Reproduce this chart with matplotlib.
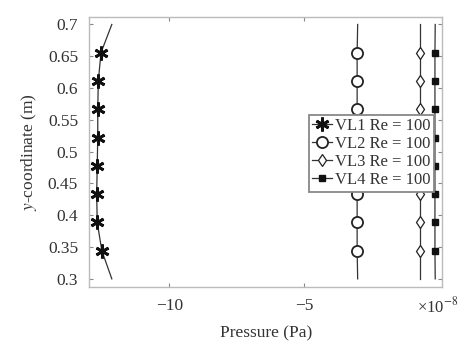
import numpy as np
import matplotlib.pyplot as plt

plt.rcParams['font.family'] = ['Liberation Serif', 'DejaVu Serif']
plt.rcParams['mathtext.fontset'] = 'stix'

# y positions of the sampled points (m)
y = np.array([0.3, 0.3444, 0.3889, 0.4333, 0.4778, 0.5222, 0.5667, 0.6111, 0.6556, 0.7])

# pressure along each vertical line, in units of 1e-8 Pa
p_vl1 = np.array([-12.13, -12.50, -12.67, -12.69, -12.67, -12.65, -12.65, -12.63, -12.53, -12.13])
p_vl2 = np.array([-3.03, -3.05, -3.05, -3.05, -3.05, -3.05, -3.05, -3.05, -3.05, -3.03])
p_vl3 = np.array([-0.73, -0.73, -0.73, -0.73, -0.73, -0.73, -0.73, -0.73, -0.73, -0.73])
p_vl4 = np.array([-0.16, -0.17, -0.17, -0.17, -0.17, -0.17, -0.17, -0.17, -0.17, -0.16])

labels = ['VL1 Re = 100', 'VL2 Re = 100', 'VL3 Re = 100', 'VL4 Re = 100']

fig = plt.figure(figsize=(4.74, 3.58), dpi=100)
ax = fig.add_axes([0.188, 0.198, 0.745, 0.755])

lc = '#333333'
# lines through all points, markers only at interior points
ax.plot(p_vl1, y, '-', color=lc, lw=0.9, marker=(6, 2, 0), ms=10, mec='#111111', mew=2.0,
        markevery=slice(1, -1), label=labels[0])
ax.plot(p_vl2, y, '-', color=lc, lw=0.9, marker='o', ms=8, mfc='white', mec='#222222', mew=1.3,
        markevery=slice(1, -1), label=labels[1])
ax.plot(p_vl3, y, '-', color=lc, lw=0.9, marker='d', ms=6, mfc='white', mec='#222222', mew=0.9,
        markevery=slice(1, -1), label=labels[2])
ax.plot(p_vl4, y, '-', color=lc, lw=0.9, marker='s', ms=4.5, mfc='#111111', mec='#111111',
        markevery=slice(1, -1), label=labels[3])

ax.set_xlim(-12.97, 0.1)
ax.set_ylim(0.287, 0.712)
ax.set_xticks([-10, -5])
ax.set_xticklabels(['\u221210', '\u22125'])
ax.set_yticks(np.arange(0.3, 0.701, 0.05))
ax.set_yticklabels(['0.3', '0.35', '0.4', '0.45', '0.5', '0.55', '0.6', '0.65', '0.7'])

for s in ax.spines.values():
    s.set_color('#bbbbbb')
    s.set_linewidth(1.0)
ax.tick_params(direction='in', length=3, color='#888888', top=True, right=True,
               labelsize=12.5, labelcolor='#333333', pad=8)

ax.set_xlabel('Pressure (Pa)', fontsize=12.5, color='#333333', labelpad=8)
ax.set_ylabel('$y$-coordinate (m)', fontsize=12.5, color='#333333', labelpad=6)

ax.text(1.045, -0.035, '\u00d710$^{-8}$', transform=ax.transAxes, ha='right', va='top',
        fontsize=12, color='#333333')

leg = ax.legend(loc='upper left', bbox_to_anchor=(0.623, 0.637), borderaxespad=0,
                fontsize=12, handlelength=1.2, handletextpad=0.15, labelspacing=0.12,
                borderpad=0.2, fancybox=False, framealpha=1)
leg.get_frame().set_edgecolor('#888888')
leg.get_frame().set_linewidth(1.3)
for t in leg.get_texts():
    t.set_color('#333333')

fig.savefig('out.png', dpi=100)
